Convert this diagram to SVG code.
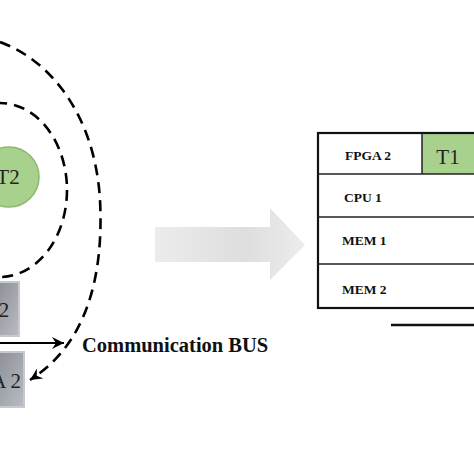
<svg xmlns="http://www.w3.org/2000/svg" width="474" height="474" viewBox="0 0 474 474">
<defs>
<style>
.dash{fill:none;stroke:#000;stroke-width:2.6;stroke-dasharray:11,7}
.lbl{font-family:"Liberation Serif",serif;font-weight:bold;font-size:13.5px;fill:#111}
.big{font-family:"Liberation Serif",serif;font-size:21px;fill:#222}
.row{stroke:#222;stroke-width:1.5}
</style>
<linearGradient id="gb" x1="0" y1="0" x2="1" y2="1">
<stop offset="0" stop-color="#8a8d93"/><stop offset="1" stop-color="#b9bcc2"/>
</linearGradient>
<linearGradient id="ga" x1="0" y1="0" x2="1" y2="0">
<stop offset="0" stop-color="#ececec"/><stop offset="0.6" stop-color="#dedede"/><stop offset="1" stop-color="#ececec"/>
</linearGradient>
<marker id="ah2" markerWidth="14" markerHeight="14" refX="12" refY="7" orient="auto" markerUnits="userSpaceOnUse">
<path d="M0,1 L12,7 L0,13 L4,7 Z" fill="#000"/>
</marker>
</defs>
<g id="connectors">
<ellipse class="dash" cx="0" cy="190" rx="67" ry="87"/>
<path class="dash" d="M0,42 C50,60 95,115 100,200 C104,280 85,345 30,380" marker-end="url(#ah2)"/>
<line x1="0" y1="343" x2="64" y2="343" stroke="#000" stroke-width="2.2" marker-end="url(#ah2)"/>
</g>
<g id="T2">
<circle cx="9" cy="177" r="30" fill="#a9d18e" stroke="#8bb86c" stroke-width="1.5"/>
<text class="big" x="8" y="184" text-anchor="middle">T2</text>
</g>
<g id="box1">
<rect x="-5" y="282" width="24" height="54" fill="url(#gb)" stroke="#c6c9ce" stroke-width="2"/>
<text class="big" x="4" y="317" text-anchor="middle">2</text>
</g>
<g id="box2">
<rect x="-5" y="352" width="29" height="55" fill="url(#gb)" stroke="#c6c9ce" stroke-width="2"/>
<text class="big" x="6" y="388" text-anchor="middle">A 2</text>
</g>
<g id="bus">
<text x="82" y="352" font-family="Liberation Serif,serif" font-weight="bold" font-size="20.5" fill="#111">Communication BUS</text>
</g>
<g id="bigarrow">
<path d="M155,227 L270,227 L270,208 L305,245 L270,280 L270,262 L155,262 Z" fill="url(#ga)"/>
</g>
<g id="table">
<rect x="422" y="133" width="60" height="41" fill="#a9d18e"/>
<rect x="318" y="133" width="170" height="175" fill="none" stroke="#111" stroke-width="2.2"/>
<line class="row" x1="318" y1="174" x2="474" y2="174"/>
<line class="row" x1="422" y1="133" x2="422" y2="174"/>
<line class="row" x1="318" y1="217" x2="474" y2="217"/>
<line class="row" x1="318" y1="264" x2="474" y2="264"/>
<text class="lbl" x="345" y="160">FPGA 2</text>
<text class="big" x="448" y="164" text-anchor="middle">T1</text>
<text class="lbl" x="344" y="202">CPU 1</text>
<text class="lbl" x="342" y="245">MEM 1</text>
<text class="lbl" x="342" y="294">MEM 2</text>
<line x1="391" y1="325" x2="474" y2="325" stroke="#111" stroke-width="2.5"/>
</g>
</svg>
